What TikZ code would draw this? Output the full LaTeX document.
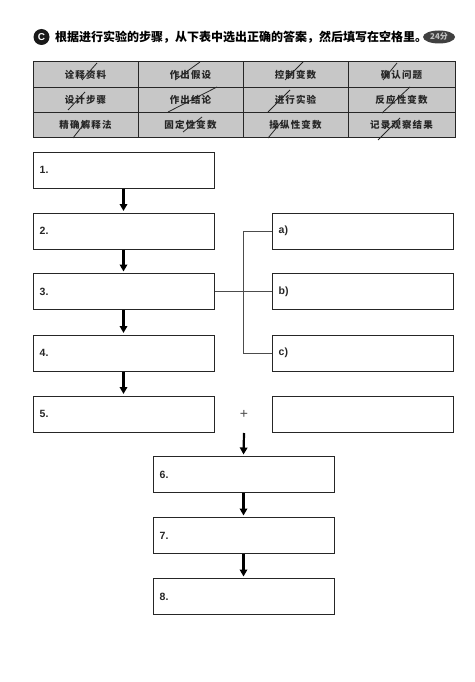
\documentclass[tikz,border=0pt]{standalone}
\usepackage{fontspec}
\setmainfont{Liberation Sans}
\newfontfamily\cjk{Noto Sans CJK SC}
\newfontfamily\cjkwide[LetterSpace=12]{Noto Sans CJK SC}
\usetikzlibrary{arrows.meta,shapes.geometric}
\tikzset{
  flowbox/.style={draw=black!85, line width=1pt, minimum width=181pt, minimum height=36pt, inner sep=0pt},
  lab/.style={font=\bfseries\fontsize{10.5}{12}\selectfont, text=black!85, anchor=west, inner sep=0pt},
  flowarrow/.style={line width=2.2pt, -{Triangle[width=7.5pt,length=7pt]}, shorten >=1.5pt},
  thinline/.style={draw=black!70, line width=0.6pt},
  cell/.style={font=\cjkwide\bfseries\fontsize{9.5}{10}\selectfont, text=black!85, inner sep=0pt},
  strike/.style={draw=black!85, line width=0.8pt},
}
\begin{document}
\begin{tikzpicture}[x=1pt,y=-1pt]
\useasboundingbox (0,0) rectangle (474,682);
\fill[white] (0,0) rectangle (474,682);

% title
\node[circle, fill=black!90, minimum size=16pt, inner sep=0pt, font=\bfseries\fontsize{10}{10}\selectfont, text=white] (cicon) at (41.5,37) {C};
\node[anchor=west, inner sep=0pt, font=\cjk\bfseries\fontsize{12}{12}\selectfont] (title) at (55,37) {根据进行实验的步骤，从下表中选出正确的答案，然后填写在空格里。};
\node[ellipse, fill=black!75, minimum width=32pt, minimum height=13pt, inner sep=0pt, font=\cjk\bfseries\fontsize{8}{8}\selectfont, text=black!25] (score) at (439,37) {24分};

% table
\fill[black!22] (33,62) rectangle (455,137);
\draw[line width=1pt, black!85] (33,62) rectangle (455,137);
\foreach \y in {87,112} \draw[line width=0.8pt, black!85] (33,\y) -- (455,\y);
\foreach \x in {138,243,348} \draw[line width=0.8pt, black!85] (\x,62) -- (\x,137);

\node[cell] (t11) at (85.5,75) {诠释资料};
\node[cell] (t12) at (190.5,75) {作出假设};
\node[cell] (t13) at (295.5,75) {控制变数};
\node[cell] (t14) at (401.5,75) {确认问题};
\node[cell] (t21) at (85.5,100) {设计步骤};
\node[cell] (t22) at (190.5,100) {作出结论};
\node[cell] (t23) at (295.5,100) {进行实验};
\node[cell] (t24) at (401.5,100) {反应性变数};
\node[cell] (t31) at (85.5,125) {精确解释法};
\node[cell] (t32) at (190.5,125) {固定性变数};
\node[cell] (t33) at (295.5,125) {操纵性变数};
\node[cell] (t34) at (401.5,125) {记录观察结果};

% cross-out marks
\draw[strike] (82,80) -- (97,63);
\draw[strike] (175,80) -- (200,62);
\draw[strike] (285,80) -- (303,62);
\draw[strike] (383,80) -- (397,63);
\draw[strike] (68,110) -- (85,92);
\draw[strike] (168,112) -- (217,87);
\draw[strike] (268,112) -- (290,90);
\draw[strike] (382,113) -- (410,87);
\draw[strike] (73,138) -- (87,120);
\draw[strike] (183,132) -- (202,117);
\draw[strike] (268,138) -- (283,120);
\draw[strike] (378,140) -- (400,118);

% left column boxes
\node[flowbox] (b1) at (123.5,170) {};
\node[flowbox] (b2) at (123.5,231) {};
\node[flowbox] (b3) at (123.5,291.5) {};
\node[flowbox] (b4) at (123.5,353) {};
\node[flowbox] (b5) at (123.5,414) {};
% right column boxes
\node[flowbox] (ra) at (362.5,231) {};
\node[flowbox] (rb) at (362.5,291.5) {};
\node[flowbox] (rc) at (362.5,353) {};
\node[flowbox] (rd) at (362.5,414) {};
% bottom boxes
\node[flowbox] (b6) at (243.5,474.5) {};
\node[flowbox] (b7) at (243.5,535.5) {};
\node[flowbox] (b8) at (243.5,596.5) {};

% labels
\node[lab] at ([xshift=7pt]b1.west) {1.};
\node[lab] at ([xshift=7pt]b2.west) {2.};
\node[lab] at ([xshift=7pt]b3.west) {3.};
\node[lab] at ([xshift=7pt]b4.west) {4.};
\node[lab] at ([xshift=7pt]b5.west) {5.};
\node[lab] at ([xshift=7pt]ra.west) {a)};
\node[lab] at ([xshift=7pt]rb.west) {b)};
\node[lab] at ([xshift=7pt]rc.west) {c)};
\node[lab] at ([xshift=7pt]b6.west) {6.};
\node[lab] at ([xshift=7pt]b7.west) {7.};
\node[lab] at ([xshift=7pt]b8.west) {8.};

% arrows
\draw[flowarrow] (b1.south) -- (b2.north);
\draw[flowarrow] (b2.south) -- (b3.north);
\draw[flowarrow] (b3.south) -- (b4.north);
\draw[flowarrow] (b4.south) -- (b5.north);
\draw[flowarrow] (b6.south) -- (b7.north);
\draw[flowarrow] (b7.south) -- (b8.north);

% branch connector
\coordinate (ja) at (243,231);
\coordinate (jc) at (243,353);
\draw[thinline] (b3.east) -- (rb.west);
\draw[thinline] (ra.west) -- (ja) -- (jc) -- (rc.west);

% plus and arrow to 6
\node[inner sep=0pt, font=\fontsize{14}{14}\selectfont, text=black!70] (plus) at (244,414) {+};
\coordinate (pstart) at (244,433);
\draw[flowarrow] (pstart) -- (b6.north);
\end{tikzpicture}
\end{document}
